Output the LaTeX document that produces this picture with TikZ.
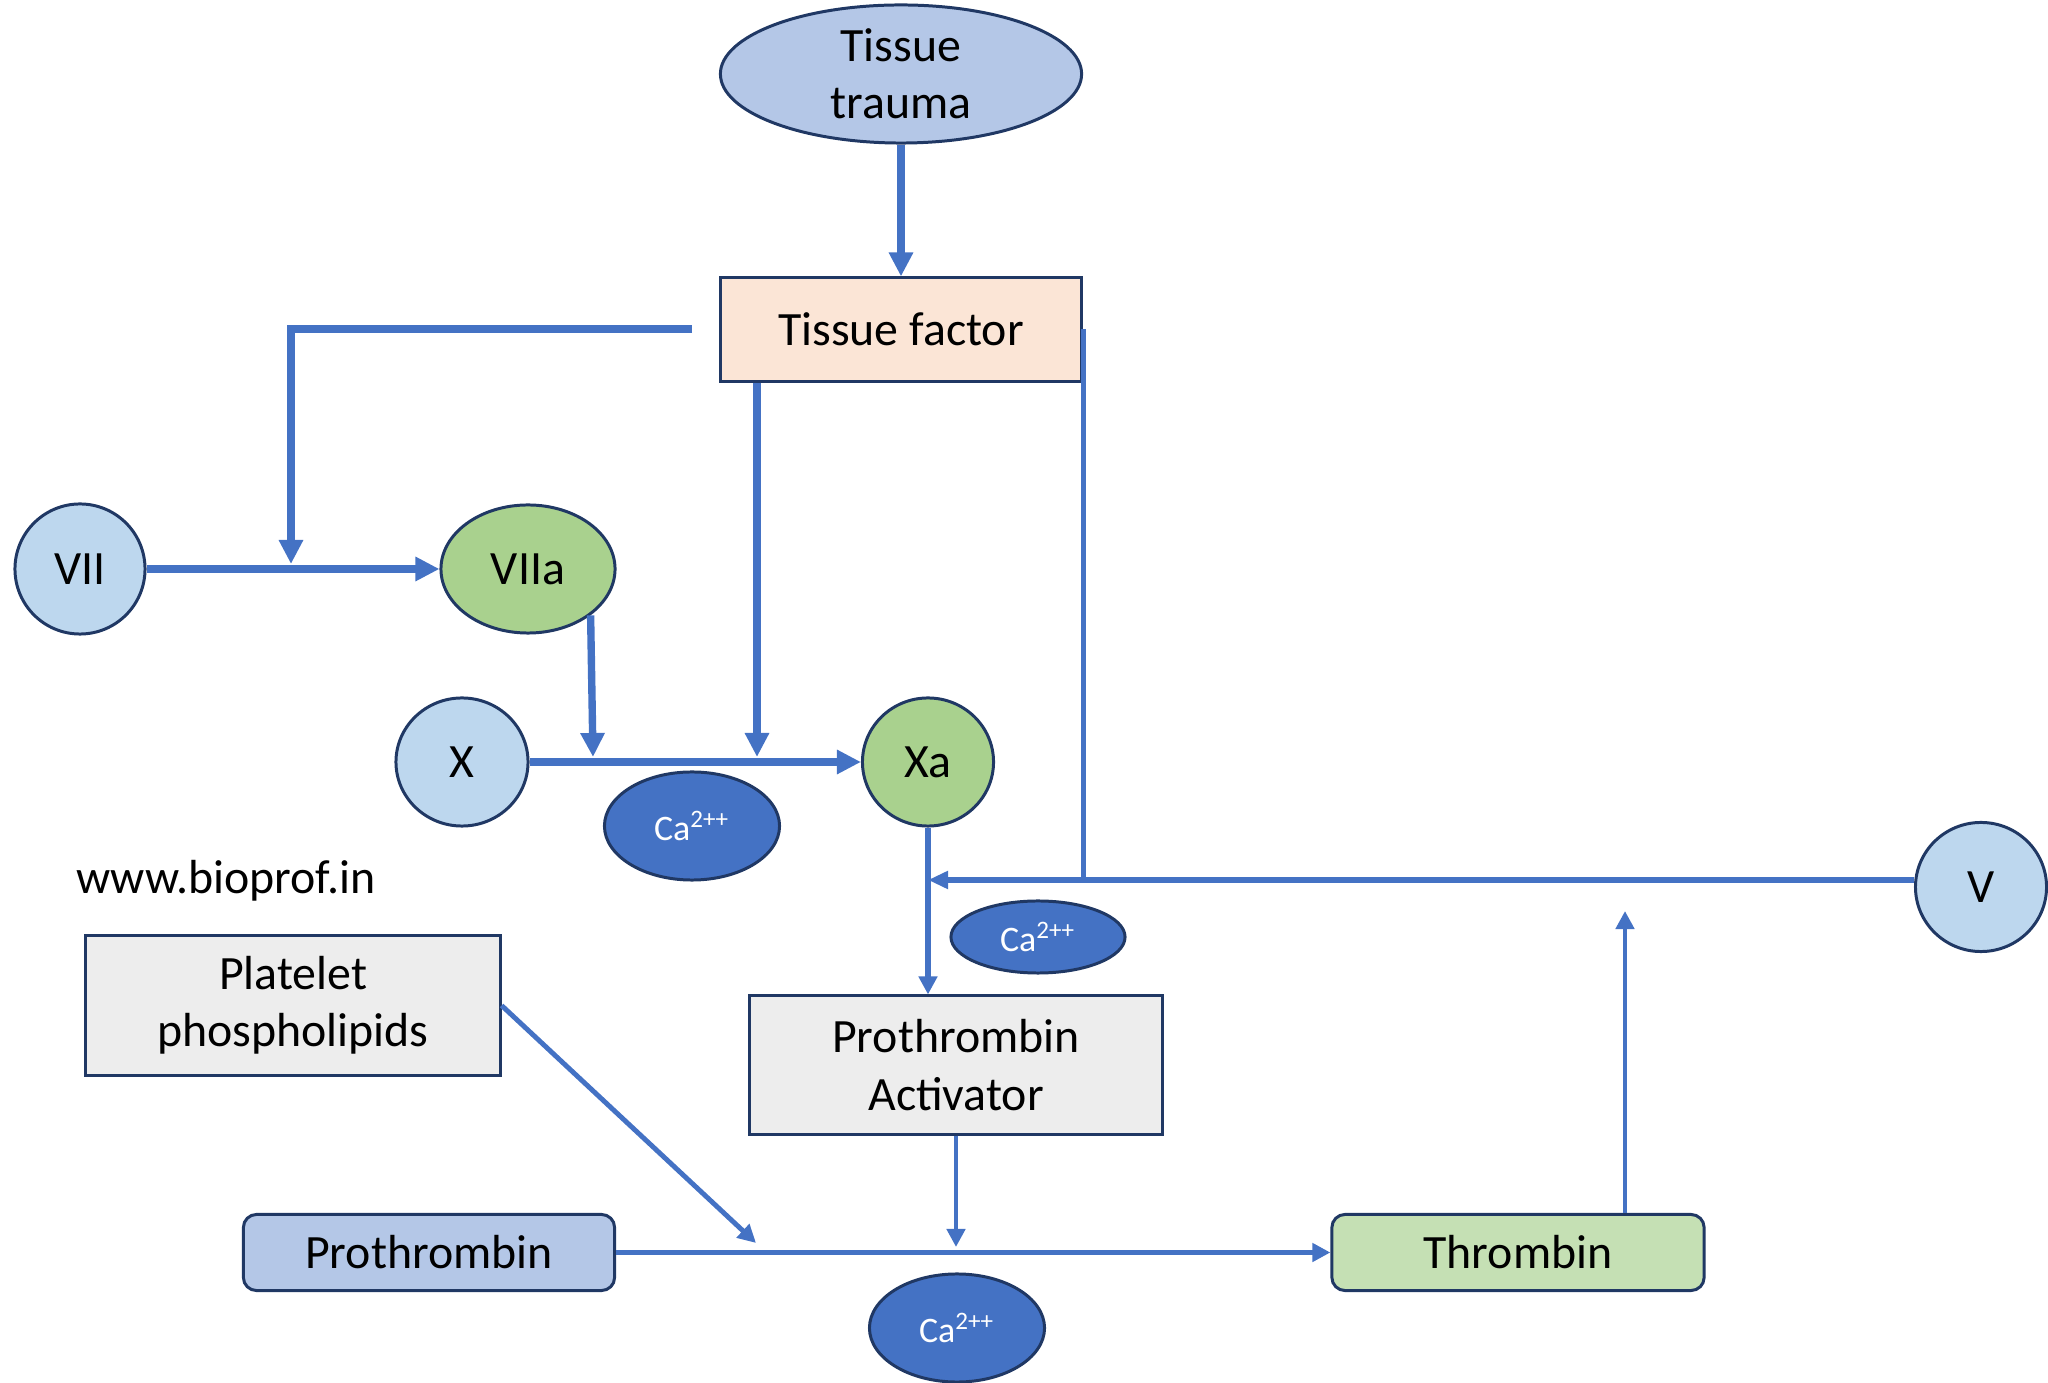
\documentclass[tikz,border=0pt]{standalone}
\usepackage{fontspec}
\setmainfont{Carlito}
\usetikzlibrary{arrows.meta,shapes.geometric,calc}
\definecolor{lineblue}{HTML}{4472C4}
\definecolor{navy}{HTML}{203864}
\definecolor{ttfill}{HTML}{B4C7E7}
\definecolor{tffill}{HTML}{FBE5D6}
\definecolor{lbfill}{HTML}{BDD7EE}
\definecolor{gnfill}{HTML}{A9D18E}
\definecolor{gyfill}{HTML}{EDEDED}
\definecolor{thfill}{HTML}{C5E0B4}
\begin{document}
\begin{tikzpicture}[x=0.01cm,y=-0.01cm,
  mainfnt/.style={font=\fontsize{13.6}{16.3}\selectfont},
  ell/.style={ellipse,draw=navy,line width=0.85pt,inner sep=0pt,align=center,mainfnt},
  rbox/.style={rectangle,draw=navy,line width=0.85pt,inner sep=0pt,align=center,mainfnt},
  rrbox/.style={rbox,rounded corners=0.13cm},
  caell/.style={ellipse,draw=navy,line width=0.85pt,fill=lineblue,inner sep=0pt,text=white,font=\fontsize{10.2}{12}\selectfont},
  fatline/.style={draw=lineblue,line width=2.1pt,-{Triangle[length=0.24cm,width=0.23cm]}},
  midline/.style={draw=lineblue,line width=1.7pt,-{Triangle[length=0.18cm,width=0.18cm]}},
  thinline/.style={draw=lineblue,line width=1.4pt,-{Triangle[length=0.18cm,width=0.18cm]}},
  plainline/.style={draw=lineblue,line width=1.4pt}]
\useasboundingbox (0,0) rectangle (2048,1383);

% nodes
\node[ell,fill=ttfill,minimum width=3.61cm,minimum height=1.38cm] (tt) at (901,74) {Tissue\\trauma};
\node[rbox,fill=tffill,minimum width=3.61cm,minimum height=1.03cm] (tf) at (901,329.5) {Tissue factor};
\node[ell,fill=lbfill,minimum width=1.30cm,minimum height=1.30cm] (vii) at (80,569) {VII};
\node[ell,fill=gnfill,minimum width=1.74cm,minimum height=1.28cm] (viia) at (528,569) {VIIa};
\node[ell,fill=lbfill,minimum width=1.32cm,minimum height=1.28cm] (x) at (462,762) {X};
\node[ell,fill=gnfill,minimum width=1.31cm,minimum height=1.28cm] (xa) at (928,762) {Xa};
\node[caell,minimum width=1.75cm,minimum height=1.08cm] (ca1) at (692,826) {Ca\textsuperscript{2++}};
\node[ell,fill=lbfill,minimum width=1.31cm,minimum height=1.29cm] (v) at (1981,887) {V};
\node[caell,minimum width=1.74cm,minimum height=0.72cm] (ca2) at (1038,937) {Ca\textsuperscript{2++}};
\node[rbox,fill=gyfill,minimum width=4.12cm,minimum height=1.38cm] (pa) at (956,1065) {Prothrombin\\Activator};
\node[rbox,fill=gyfill,minimum width=4.14cm,minimum height=1.39cm] (pp) at (293,1005.5) {Platelet\\phospholipids};
\node[rrbox,fill=ttfill,minimum width=3.71cm,minimum height=0.76cm] (pro) at (429,1252.5) {Prothrombin};
\node[rrbox,fill=thfill,minimum width=3.72cm,minimum height=0.76cm] (thr) at (1518,1252.5) {Thrombin};
\node[caell,minimum width=1.75cm,minimum height=1.08cm] (ca3) at (957,1328) {Ca\textsuperscript{2++}};
\node[mainfnt,inner sep=0pt] (web) at (226,881) {www.bioprof.in};

% free ends
\coordinate (tfl) at (692,329);
\coordinate (vtop) at (291,564);
\coordinate (c1) at (593,757);
\coordinate (c2) at (757,757);
\coordinate (jn) at (1081,880);
\coordinate (c3) at (956,1247);
\coordinate (c4) at (756,1243);
\coordinate (tu) at (1625,911);

% connectors
\draw[fatline] (tt.south) -- (tf.north);
\draw[fatline] (tfl) -| (vtop);
\draw[fatline] (vii.east) -- (viia.west);
\draw[fatline] (viia.south east) -- (c1);
\draw[fatline] (tf.south -| c2) -- (c2);
\draw[fatline] (x.east) -- (xa.west);
\draw[midline] (xa.south) -- (xa.south |- pa.north);
\draw[plainline] (tf.east) -- (tf.east |- jn);
\draw[draw=lineblue,line width=1.7pt,-{Triangle[length=0.2cm,width=0.17cm]}] (v.west |- jn) -- (xa.south |- jn);
\draw[thinline] (pa.south) -- (pa.south |- c3);
\draw[thinline] (pp.east) -- (c4);
\draw[midline] (pro.east) -- (thr.west);
\draw[thinline] (thr.north -| tu) -- (tu);
\end{tikzpicture}
\end{document}
